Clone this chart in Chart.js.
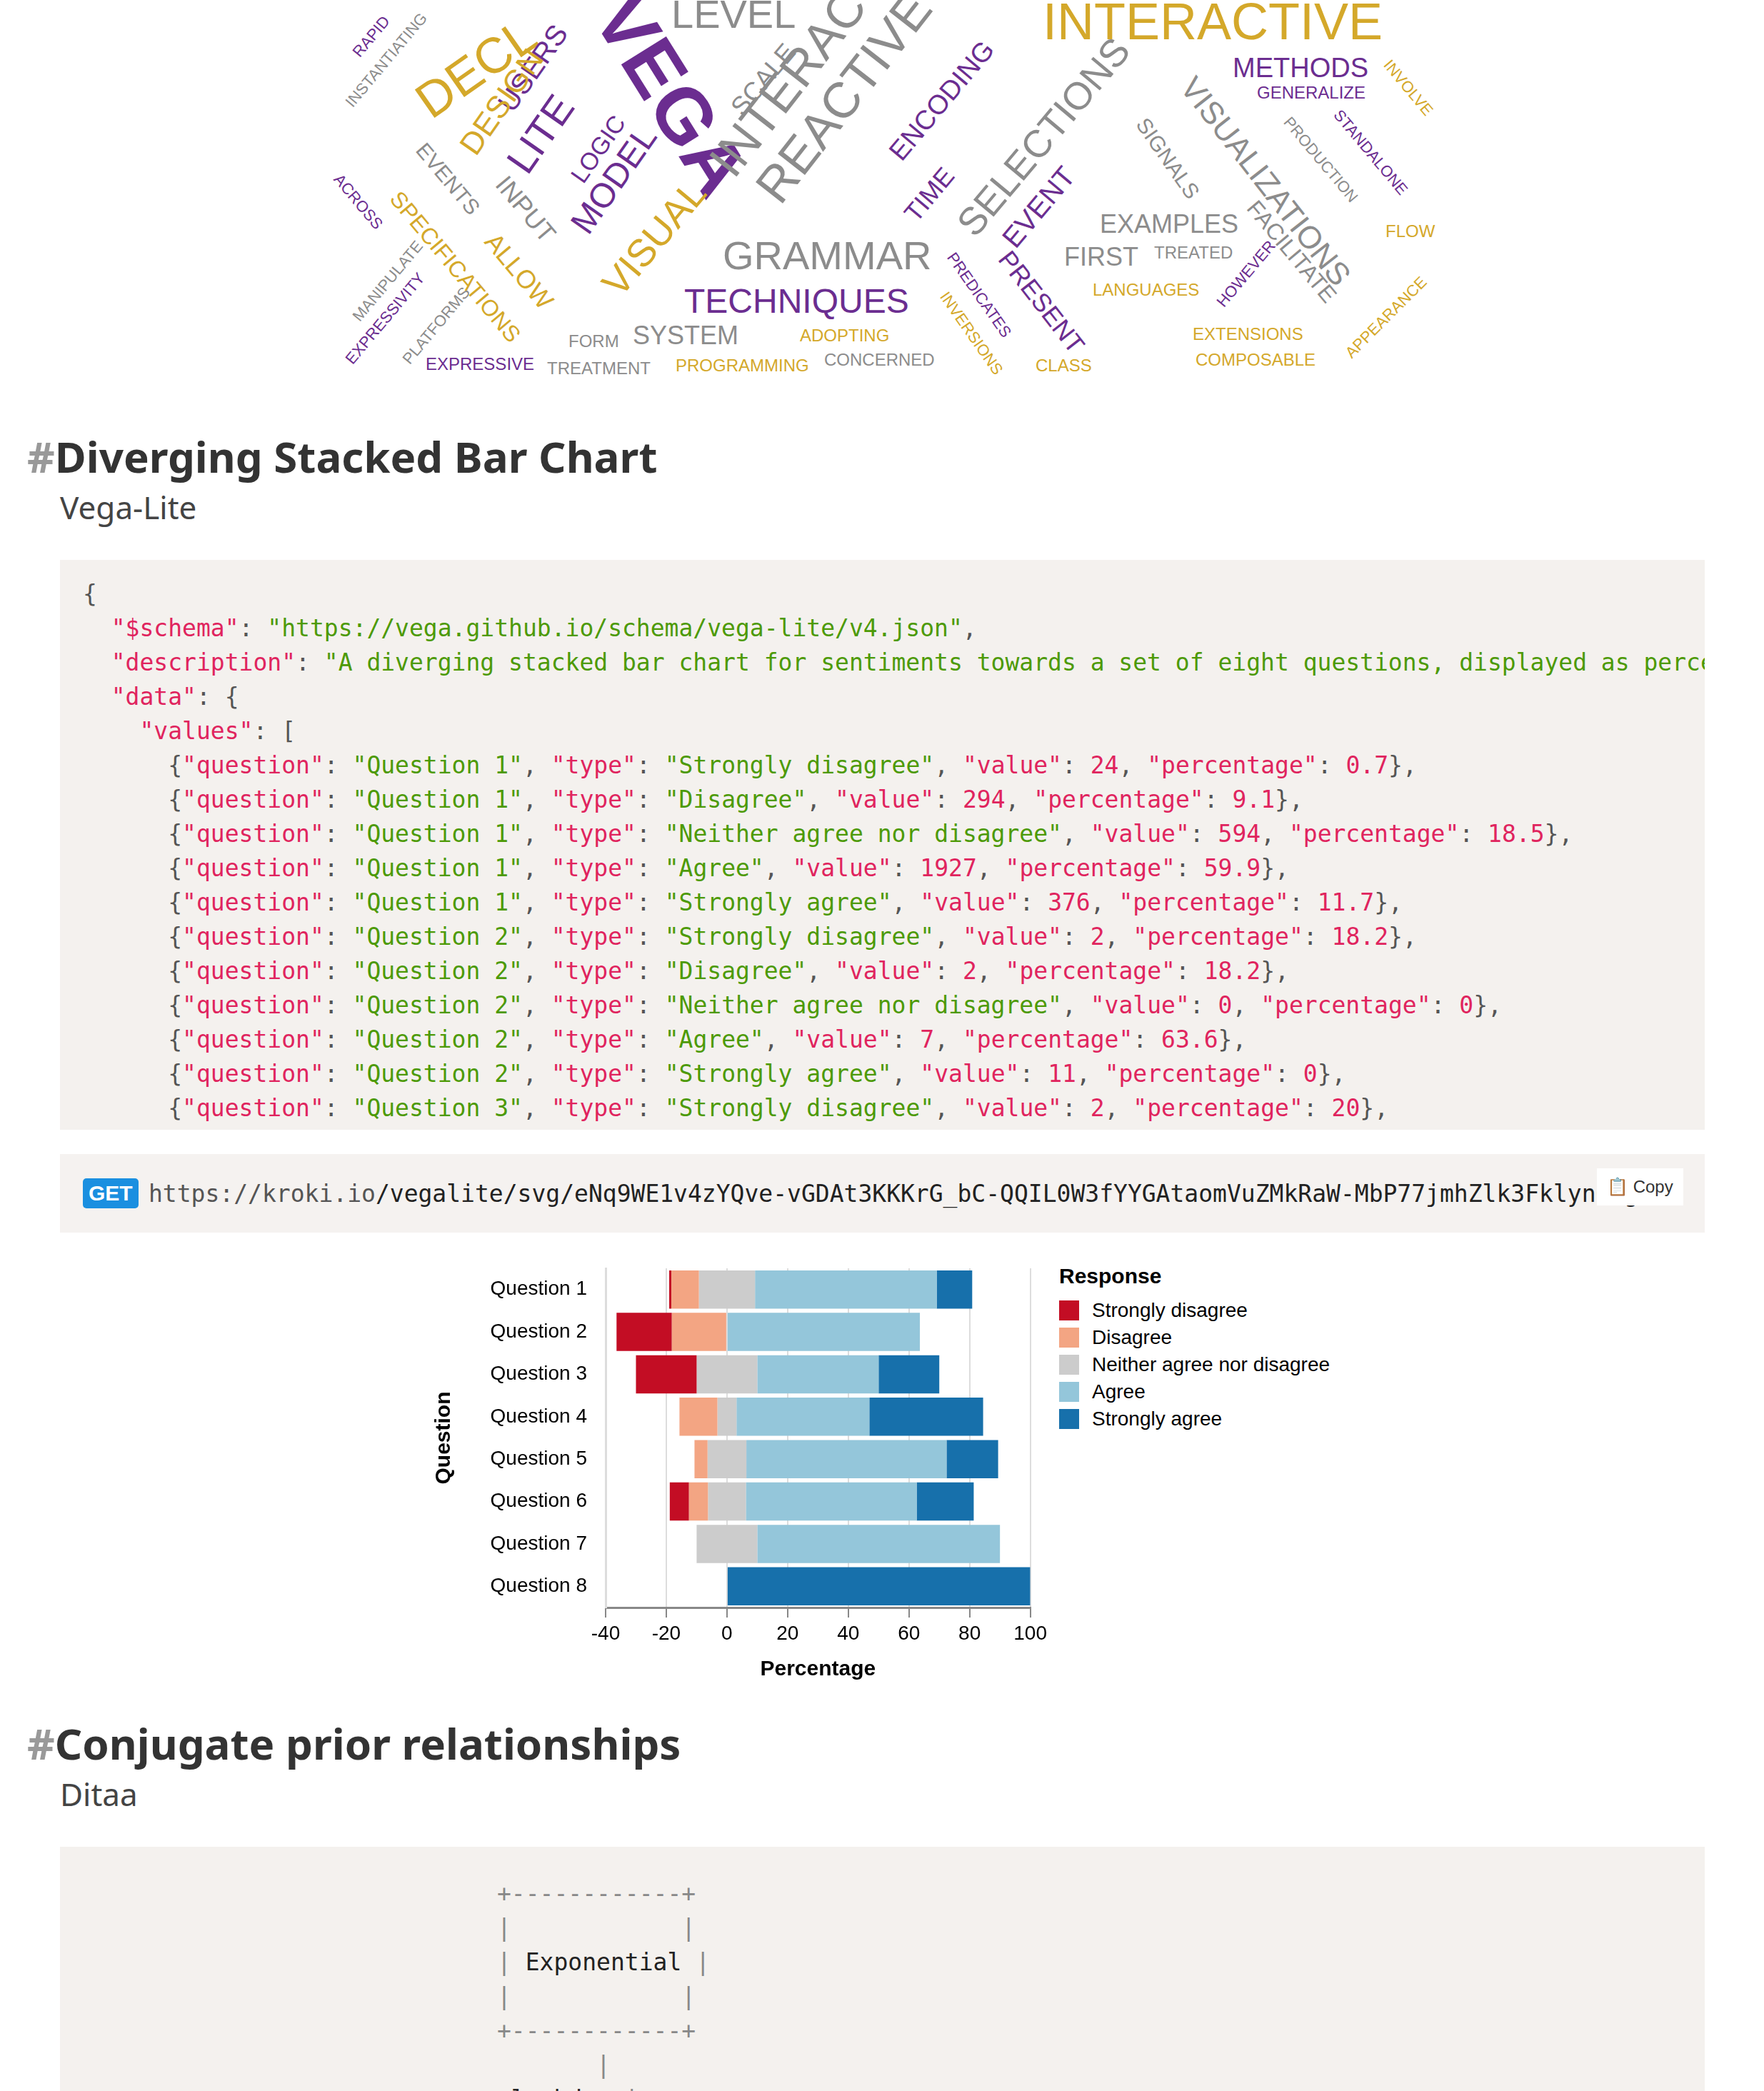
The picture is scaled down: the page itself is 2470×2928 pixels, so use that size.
<!DOCTYPE html>
<html>
<head>
<meta charset="utf-8">
<script src="https://cdn.jsdelivr.net/npm/chart.js@4"></script>
<style>
  body { margin:0; width:2470px; height:2928px; background:#fff; position:relative; overflow:hidden; font-family:"Liberation Sans", Arial, sans-serif; }
  .w { position:absolute; white-space:nowrap; font-family:"Liberation Sans", Arial, sans-serif; transform-origin:left top; line-height:1; }
  h2 { position:absolute; margin:0; font-family:"Noto Sans", sans-serif; font-weight:bold; font-size:60px; color:#333; }
  h2 span { color:#999; }
  .sub { position:absolute; font-family:"Noto Sans", sans-serif; font-size:44px; color:#444; }
  .code { position:absolute; left:84px; width:2303px; background:#f4f1ee; overflow:hidden; font-family:"DejaVu Sans Mono", monospace; font-size:33px; line-height:48px; color:#555; white-space:pre; }
  .k { color:#e0245e; } .s { color:#4d9a06; } .n { color:#e0245e; }
  #legend { position:absolute; left:1483px; top:1770px; font-size:28px; color:#000; }
  #legend .t { font-weight:bold; font-size:30px; margin-bottom:12px; }
  #legend div.i { display:flex; align-items:center; height:38px; }
  #legend .b { width:28px; height:28px; margin-right:18px; }
</style>
</head>
<body>
<div id="cloud"></div>

<h2 style="left:38px;top:598px"><span>#</span>Diverging Stacked Bar Chart</h2>
<div class="sub" style="left:84px;top:680px">Vega-Lite</div>

<div class="code" style="top:784px;height:798px;padding:24px 0 0 32px;box-sizing:border-box">{
  <span class="k">"$schema"</span>: <span class="s">"https://vega.github.io/schema/vega-lite/v4.json"</span>,
  <span class="k">"description"</span>: <span class="s">"A diverging stacked bar chart for sentiments towards a set of eight questions, displayed as percentages with neutral responses straddling the 0% mark"</span>,
  <span class="k">"data"</span>: {
    <span class="k">"values"</span>: [
      {<span class="k">"question"</span>: <span class="s">"Question 1"</span>, <span class="k">"type"</span>: <span class="s">"Strongly disagree"</span>, <span class="k">"value"</span>: <span class="n">24</span>, <span class="k">"percentage"</span>: <span class="n">0.7</span>},
      {<span class="k">"question"</span>: <span class="s">"Question 1"</span>, <span class="k">"type"</span>: <span class="s">"Disagree"</span>, <span class="k">"value"</span>: <span class="n">294</span>, <span class="k">"percentage"</span>: <span class="n">9.1</span>},
      {<span class="k">"question"</span>: <span class="s">"Question 1"</span>, <span class="k">"type"</span>: <span class="s">"Neither agree nor disagree"</span>, <span class="k">"value"</span>: <span class="n">594</span>, <span class="k">"percentage"</span>: <span class="n">18.5</span>},
      {<span class="k">"question"</span>: <span class="s">"Question 1"</span>, <span class="k">"type"</span>: <span class="s">"Agree"</span>, <span class="k">"value"</span>: <span class="n">1927</span>, <span class="k">"percentage"</span>: <span class="n">59.9</span>},
      {<span class="k">"question"</span>: <span class="s">"Question 1"</span>, <span class="k">"type"</span>: <span class="s">"Strongly agree"</span>, <span class="k">"value"</span>: <span class="n">376</span>, <span class="k">"percentage"</span>: <span class="n">11.7</span>},
      {<span class="k">"question"</span>: <span class="s">"Question 2"</span>, <span class="k">"type"</span>: <span class="s">"Strongly disagree"</span>, <span class="k">"value"</span>: <span class="n">2</span>, <span class="k">"percentage"</span>: <span class="n">18.2</span>},
      {<span class="k">"question"</span>: <span class="s">"Question 2"</span>, <span class="k">"type"</span>: <span class="s">"Disagree"</span>, <span class="k">"value"</span>: <span class="n">2</span>, <span class="k">"percentage"</span>: <span class="n">18.2</span>},
      {<span class="k">"question"</span>: <span class="s">"Question 2"</span>, <span class="k">"type"</span>: <span class="s">"Neither agree nor disagree"</span>, <span class="k">"value"</span>: <span class="n">0</span>, <span class="k">"percentage"</span>: <span class="n">0</span>},
      {<span class="k">"question"</span>: <span class="s">"Question 2"</span>, <span class="k">"type"</span>: <span class="s">"Agree"</span>, <span class="k">"value"</span>: <span class="n">7</span>, <span class="k">"percentage"</span>: <span class="n">63.6</span>},
      {<span class="k">"question"</span>: <span class="s">"Question 2"</span>, <span class="k">"type"</span>: <span class="s">"Strongly agree"</span>, <span class="k">"value"</span>: <span class="n">11</span>, <span class="k">"percentage"</span>: <span class="n">0</span>},
      {<span class="k">"question"</span>: <span class="s">"Question 3"</span>, <span class="k">"type"</span>: <span class="s">"Strongly disagree"</span>, <span class="k">"value"</span>: <span class="n">2</span>, <span class="k">"percentage"</span>: <span class="n">20</span>},</div>

<div style="position:absolute;left:84px;top:1616px;width:2303px;height:110px;background:#f5f2f0;overflow:hidden">
  <span style="position:absolute;left:32px;top:34px;background:#1a8fe0;color:#fff;font-family:'Liberation Sans';font-weight:bold;font-size:30px;padding:4px 8px;border-radius:5px">GET</span>
  <span style="position:absolute;left:124px;top:36px;font-family:'DejaVu Sans Mono',monospace;font-size:33px;color:#222;white-space:nowrap"><span style="color:#555">https://kroki.io</span>/vegalite/svg/eNq9WE1v4zYQve-vGDAt3KKKrG_bC-QQIL0W3fYYGAtaomVuZMkRaW-MbP77jmhZlk3FklynOTgL F</span>
  <span style="position:absolute;left:2152px;top:20px;background:#fff;font-family:'Liberation Sans';font-size:24px;color:#333;padding:12px 14px">&#x1F4CB; Copy</span>
</div>

<div style="position:absolute;left:600px;top:1740px;width:872px;height:620px"><canvas id="c"></canvas></div>
<div id="legend"><div class="t">Response</div></div>

<h2 style="left:38px;top:2400px"><span>#</span>Conjugate prior relationships</h2>
<div class="sub" style="left:84px;top:2482px">Ditaa</div>
<div class="code" style="top:2586px;height:400px;color:#222;font-size:33px;line-height:48px;padding:42px 0 0 612px;box-sizing:border-box"><span style="color:#888">+------------+</span>
<span style="color:#888">|            |</span>
<span style="color:#888">|</span> Exponential <span style="color:#888">|</span>
<span style="color:#888">|            |</span>
<span style="color:#888">+------------+</span>
       <span style="color:#888">|</span>
 lambda  <span style="color:#888">|</span></div>

<script>
// word cloud: [text, left, top, size, rotation, colour, bold]
const PURPLE = "#6b2d90", GOLD = "#d4a82a", GREY = "#8c8c8c";
const cloudWords = [
  ["VEGA", 905, -25, 108, 58, PURPLE, true], ["INTERACTIVE", 1460, -6, 72, 0, GOLD], ["LEVEL", 940, -8, 56, 0, GREY],
  ["INTERACT", 981, 216, 70, -52, GREY], ["REACTIVE", 1046, 253, 70, -52, GREY], ["DECL", 570, 120, 70, -35, GOLD],
  ["USERS", 690, 140, 40, -55, PURPLE], ["DESIGN", 636, 199, 44, -55, GOLD], ["LITE", 700, 220, 56, -55, PURPLE],
  ["LOGIC", 793, 242, 34, -55, PURPLE], ["MODEL", 791, 308, 48, -55, PURPLE], ["VISUAL", 833, 389, 54, -50, GOLD],
  ["SCALE", 1017, 145, 36, -50, GREY], ["ENCODING", 1238, 207, 38, -50, PURPLE], ["SELECTIONS", 1330, 305, 54, -50, GREY],
  ["EVENT", 1396, 328, 40, -50, PURPLE], ["TIME", 1260, 294, 36, -50, PURPLE], ["METHODS", 1726, 76, 38, 0, PURPLE],
  ["GENERALIZE", 1760, 118, 24, 0, PURPLE], ["SIGNALS", 1610, 160, 30, 55, GREY], ["VISUALIZATIONS", 1680, 100, 44, 52, GREY],
  ["FACILITATE", 1765, 275, 32, 50, GREY], ["EXAMPLES", 1540, 296, 36, 0, GREY], ["FIRST", 1490, 342, 36, 0, GREY],
  ["TREATED", 1616, 342, 24, 0, GREY], ["LANGUAGES", 1530, 394, 24, 0, GOLD], ["GRAMMAR", 1012, 330, 56, 0, GREY],
  ["TECHNIQUES", 958, 398, 48, 0, PURPLE], ["SYSTEM", 886, 452, 36, 0, GREY], ["ADOPTING", 1120, 458, 24, 0, GOLD],
  ["PROGRAMMING", 946, 500, 24, 0, GOLD], ["CONCERNED", 1154, 492, 24, 0, GREY], ["TREATMENT", 766, 504, 24, 0, GREY],
  ["FORM", 796, 466, 24, 0, GREY], ["EXPRESSIVE", 596, 498, 24, 0, PURPLE], ["SPECIFICATIONS", 565, 262, 32, 50, GOLD],
  ["EVENTS", 600, 195, 30, 50, GREY], ["INPUT", 715, 240, 36, 50, GREY], ["ALLOW", 700, 320, 36, 50, GOLD],
  ["PRESENT", 1420, 345, 36, 52, PURPLE], ["EXTENSIONS", 1670, 456, 24, 0, GOLD], ["COMPOSABLE", 1674, 492, 24, 0, GOLD],
  ["CLASS", 1450, 500, 24, 0, GOLD], ["FLOW", 1940, 312, 24, 0, GOLD], ["APPEARANCE", 1880, 490, 22, -45, GOLD],
  ["EXPRESSIVITY", 480, 500, 22, -50, PURPLE], ["MANIPULATE", 490, 440, 22, -50, GREY], ["PLATFORMS", 560, 500, 22, -50, GREY],
  ["RAPID", 490, 70, 22, -50, PURPLE], ["INSTANTIATING", 480, 140, 22, -50, GREY], ["ACROSS", 480, 240, 22, 50, PURPLE],
  ["STANDALONE", 1880, 150, 22, 50, PURPLE], ["INVOLVE", 1950, 80, 22, 50, GOLD], ["PRODUCTION", 1810, 160, 22, 50, GREY],
  ["INVERSIONS", 1330, 405, 22, 55, GOLD], ["PREDICATES", 1340, 350, 22, 55, PURPLE], ["HOWEVER", 1700, 420, 22, -50, PURPLE]
];
const cloud = document.getElementById("cloud");
cloudWords.forEach(([t, x, y, s, r, c, b]) => {
  const d = document.createElement("div");
  d.className = "w";
  d.textContent = t;
  d.style.cssText = `left:${x}px;top:${y}px;font-size:${s}px;color:${c};transform:rotate(${r}deg);font-weight:${b ? 'bold' : 'normal'}`;
  cloud.appendChild(d);
});

// chart data
const questions = ["Question 1","Question 2","Question 3","Question 4","Question 5","Question 6","Question 7","Question 8"];
const responses = ["Strongly disagree","Disagree","Neither agree nor disagree","Agree","Strongly agree"];
const colors = ["#c30d24","#f3a583","#cccccc","#94c6da","#1770ab"];
const stronglyDisagree = [0.7, 18.2, 20, 0, 0, 6.3, 0, 0];
const disagree         = [9.1, 18.2, 0, 12.5, 4.3, 6.3, 0, 0];
const neither          = [18.5, 0, 20, 6.3, 12.8, 12.5, 20, 0];
const agree            = [59.9, 63.6, 40, 43.8, 66.0, 56.3, 80, 0];
const stronglyAgree    = [11.7, 0, 20, 37.5, 17.0, 18.8, 0, 100];
const xTicks = [-40, -20, 0, 20, 40, 60, 80, 100];

const series = [stronglyDisagree, disagree, neither, agree, stronglyAgree];
// diverging offsets: negative side holds disagree + half neutral
const starts = questions.map((q, i) => -(stronglyDisagree[i] + disagree[i] + neither[i] / 2));
const datasets = series.map((vals, k) => ({
  label: responses[k],
  backgroundColor: colors[k],
  data: vals.map((v, i) => {
    let s = starts[i];
    for (let j = 0; j < k; j++) s += series[j][i];
    return v > 0 ? [s, s + v] : null;
  }),
  categoryPercentage: 0.9,
  barPercentage: 1
}));

const legend = document.getElementById("legend");
responses.forEach((r, k) => {
  legend.innerHTML += `<div class="i"><span class="b" style="background:${colors[k]}"></span>${r}</div>`;
});

const font = { family: "Liberation Sans", size: 28 };
new Chart(document.getElementById("c"), {
  type: "bar",
  data: { labels: questions, datasets },
  options: {
    indexAxis: "y",
    responsive: true,
    maintainAspectRatio: false,
    animation: false,
    layout: { padding: { top: 36, right: 4, left: 0, bottom: 0 } },
    plugins: { legend: { display: false }, tooltip: { enabled: false } },
    scales: {
      x: {
        min: -40, max: 100,
        afterBuildTicks: s => { s.ticks = xTicks.map(v => ({ value: v })); },
        afterFit: s => { s.height = 109; },
        ticks: { color: "#000", font, maxRotation: 0, padding: 6 },
        grid: { color: "#ddd", lineWidth: 2, tickLength: 14, tickColor: "#888" },
        border: { color: "#888", width: 3 },
        title: { display: true, text: "Percentage", color: "#000", font: { family: "Liberation Sans", size: 30, weight: "bold" } }
      },
      y: {
        stacked: true,
        afterFit: s => { s.width = 248; },
        ticks: { color: "#000", font, padding: 18 },
        grid: { display: false },
        border: { color: "#ddd", width: 3 },
        title: { display: true, text: "Question", color: "#000", font: { family: "Liberation Sans", size: 30, weight: "bold" } }
      }
    }
  }
});
</script>
</body>
</html>
